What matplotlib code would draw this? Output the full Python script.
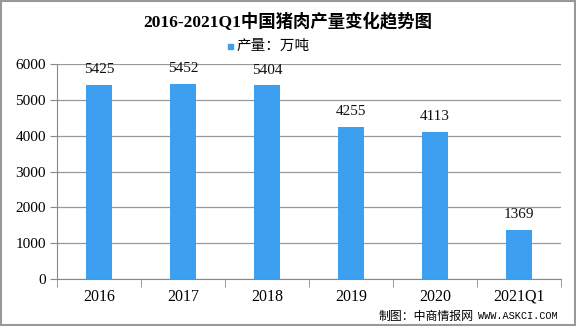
import matplotlib
matplotlib.use("Agg")
import matplotlib.pyplot as plt
from matplotlib.patches import Rectangle

categories = ["2016", "2017", "2018", "2019", "2020", "2021Q1"]
values = [5425, 5452, 5404, 4255, 4113, 1369]
yticks = [0, 1000, 2000, 3000, 4000, 5000, 6000]
title = "2016-2021Q1中国猪肉产量变化趋势图"
legend_label = "产量：万吨"
footer_cn = "制图：中商情报网"
footer_url = "WWW.ASKCI.COM"

fam = ["Liberation Serif", "Noto Sans CJK SC", "DejaVu Sans"]
cjk = ["Noto Sans CJK SC", "DejaVu Sans"]
bar_color = "#3d9ff0"

fig = plt.figure(figsize=(5.76, 3.26), dpi=100)
ax = fig.add_axes([57/576, 1-279/326, 504/576, 215/326])

x = list(range(len(categories)))
ax.bar(x, values, width=0.32, color=bar_color, zorder=3)
for xi, v in zip(x, values):
    ax.text(xi, v + 240, str(v), ha="center", va="bottom", fontsize=11, family=fam, color="#111111")

ax.set_xlim(-0.5, len(categories) - 0.5)
ax.set_ylim(0, 6000)
ax.set_yticks(yticks)
ax.set_yticklabels([str(t) for t in yticks], family=fam, fontsize=11)
ax.set_xticks(x)
ax.set_xticklabels(categories, family=fam, fontsize=11.5)
ax.set_xticks([i - 0.5 for i in range(len(categories) + 1)], minor=True)
ax.tick_params(axis="x", which="major", length=0, pad=7)
ax.tick_params(axis="x", which="minor", length=6, color="#888888", direction="out")
ax.tick_params(axis="y", length=5, color="#888888", pad=3)
ax.yaxis.grid(True, color="#999999", linewidth=0.9, zorder=0)
for s in ["top", "right"]:
    ax.spines[s].set_visible(False)
ax.spines["left"].set_color("#888888")
ax.spines["bottom"].set_color("#888888")

fig.text(0.5, 1-22/326, title, ha="center", va="center", fontsize=12.5, weight="bold",
         family=["Liberation Serif", "Noto Sans CJK SC", "DejaVu Sans"])
fig.patches.append(Rectangle((228/576, 1-49/326), 5/576, 5/326, transform=fig.transFigure, color=bar_color))
fig.text(236/576, 1-46/326, legend_label, ha="left", va="center", fontsize=10.5, family=cjk)
fig.text(474/576, 1-316/326, footer_cn, ha="right", va="center", fontsize=8.6, family=cjk)
fig.text(478/576, 1-316/326, footer_url, ha="left", va="center", fontsize=7.4,
         family=["Liberation Mono", "DejaVu Sans Mono"])

fig.patches.append(Rectangle((0.001, 0.002), 0.997, 0.996, transform=fig.transFigure, fill=False, edgecolor="#999999", linewidth=1.5))

fig.savefig("out.png", dpi=100)
